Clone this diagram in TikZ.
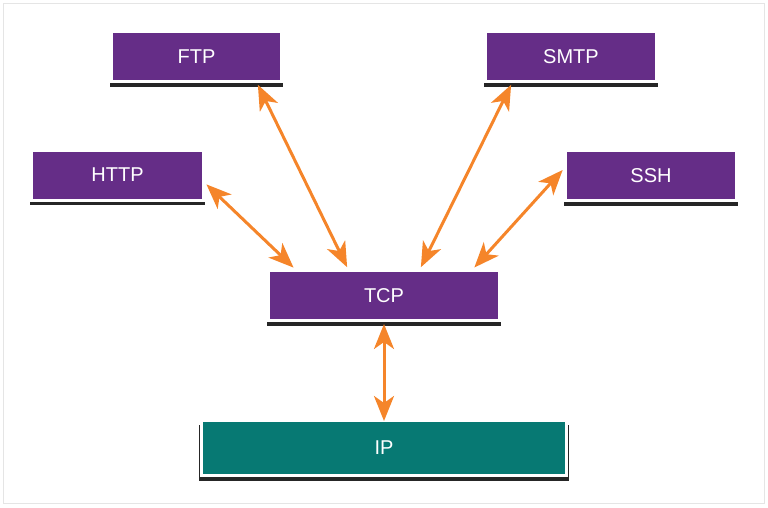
\documentclass[tikz,border=0pt]{standalone}
\usepackage{fontspec}
\setmainfont{Liberation Sans}
\usetikzlibrary{arrows.meta,shadows}
\definecolor{protopurple}{HTML}{652D87}
\definecolor{ipteal}{HTML}{077973}
\definecolor{linkorange}{HTML}{F5852A}

\begin{document}
\begin{tikzpicture}[x=1pt, y=-1pt,
	proto/.style={fill=protopurple, draw=white, line width=3pt, text=white,
		minimum height=50pt, inner sep=0pt,
		font=\fontsize{20}{24}\selectfont,
		drop shadow={shadow xshift=0pt, shadow yshift=-5pt, shadow scale=1.015, fill=black, opacity=0.85}},
	link/.style={linkorange, line width=3pt, shorten <=2pt, shorten >=2pt,
		{Stealth[length=25pt,width=20pt,inset=7pt]}-{Stealth[length=25pt,width=20pt,inset=7pt]}}]
	% Rahmen
	\useasboundingbox (0,0) rectangle (768,508);
	\draw[gray!20, line width=1pt] (3,4) rectangle (764,503);
	% Protokolle
	\node[proto, minimum width=170pt] (ftp)  at (196.5,56.5) {FTP};
	\node[proto, minimum width=171pt] (smtp) at (571,56.5) {SMTP};
	\node[proto, minimum width=172pt] (http) at (117.5,175) {HTTP};
	\node[proto, minimum width=171pt] (ssh)  at (651,175.5) {SSH};
	\node[proto, minimum width=231pt] (tcp)  at (384,295.5) {TCP};
	\node[proto, fill=ipteal, minimum width=365pt, minimum height=55pt] (ip) at (384,448) {IP};
	% Verbindungen
	\draw[link] ([xshift=60.5pt]ftp.south) -- ([xshift=-36pt]tcp.north);
	\draw[link] ([xshift=-59pt]smtp.south) -- ([xshift=36pt]tcp.north);
	\draw[link] ([yshift=-8pt]http.east) -- ([xshift=-89pt]tcp.north);
	\draw[link] ([yshift=7pt]ssh.west) -- ([xshift=89pt]tcp.north);
	\draw[link, shorten >=-2pt] (tcp.south) -- (ip.north);
\end{tikzpicture}
\end{document}
